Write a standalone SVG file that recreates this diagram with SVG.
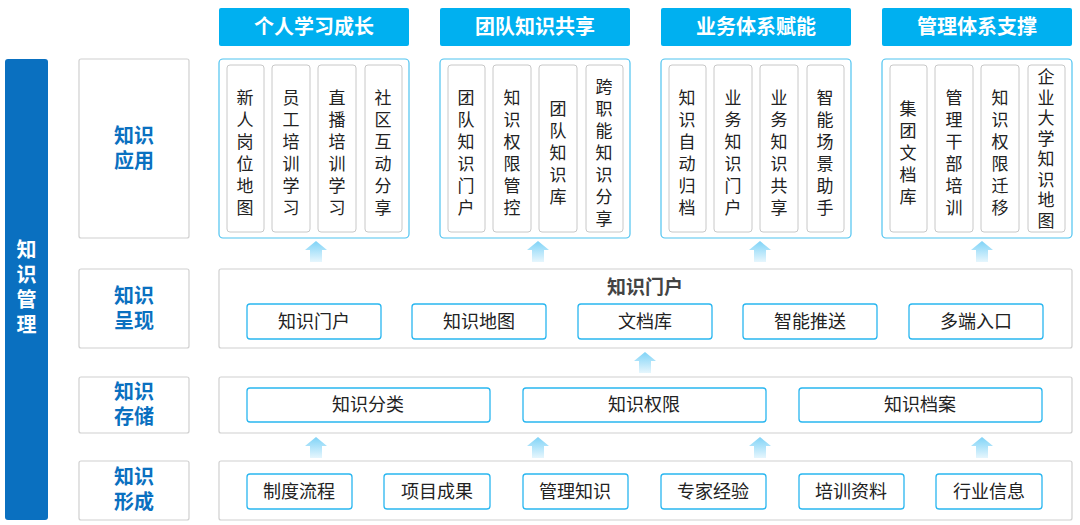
<svg xmlns="http://www.w3.org/2000/svg" width="1080" height="525" viewBox="0 0 1080 525">
<defs>
<linearGradient id="ag" x1="0" y1="0" x2="0" y2="1"><stop offset="0" stop-color="#7fd3f7"/><stop offset="1" stop-color="#e6f6fd"/></linearGradient>
<g id="arr"><path d="M-11,9 L0,0 L11,9 L6,9 L6,21 L-6,21 L-6,9 Z" fill="url(#ag)"/></g>
</defs>
<style>
text{font-family:"Noto Sans CJK SC","Noto Sans",sans-serif;}
.lab{fill:#fff;stroke:#d0d0d0;stroke-width:1.2}
.labt{fill:#0a70c0;font-size:20px;font-weight:bold;text-anchor:middle}
.tab{fill:#00b0f0}
.tabt{fill:#fff;font-size:20px;font-weight:bold;text-anchor:middle}
.grp{fill:#fff;stroke:#4fc3f0;stroke-width:1.2}
.col{fill:#fff;stroke:#c8c8c8;stroke-width:1}
.colt{fill:#222;font-size:17px;text-anchor:middle}
.row{fill:#fff;stroke:#d0d0d0;stroke-width:1.2}
.it{fill:#fff;stroke:#29b6f0;stroke-width:1.3}
.itt{fill:#222;font-size:18px;text-anchor:middle}
</style>
<rect x="0" y="0" width="1080" height="525" fill="#fff"/>
<g id="side"><rect x="5" y="59" width="43" height="461" rx="3" fill="#0a70c0"/>
<text x="26.5" y="257" fill="#fff" font-size="20" font-weight="bold" text-anchor="middle"><tspan x="26.5">知</tspan><tspan x="26.5" dy="25">识</tspan><tspan x="26.5" dy="25">管</tspan><tspan x="26.5" dy="25">理</tspan></text></g>
<g id="labels">
<rect class="lab" x="79" y="59" width="110" height="179" rx="2"/><text class="labt" x="134" y="143">知识</text><text class="labt" x="134" y="168">应用</text>
<rect class="lab" x="79" y="269" width="110" height="79" rx="2"/><text class="labt" x="134" y="303">知识</text><text class="labt" x="134" y="328">呈现</text>
<rect class="lab" x="79" y="377" width="110" height="56" rx="2"/><text class="labt" x="134" y="399">知识</text><text class="labt" x="134" y="424">存储</text>
<rect class="lab" x="79" y="461" width="110" height="59" rx="2"/><text class="labt" x="134" y="484">知识</text><text class="labt" x="134" y="509">形成</text>
</g>
<g id="tabs">
<rect class="tab" x="219" y="8" width="190" height="38" rx="2"/><text class="tabt" x="314" y="34">个人学习成长</text>
<rect class="tab" x="440" y="8" width="190" height="38" rx="2"/><text class="tabt" x="535" y="34">团队知识共享</text>
<rect class="tab" x="661" y="8" width="190" height="38" rx="2"/><text class="tabt" x="756" y="34">业务体系赋能</text>
<rect class="tab" x="882" y="8" width="190" height="38" rx="2"/><text class="tabt" x="977" y="34">管理体系支撑</text>
</g>
<g id="groups">
<rect class="grp" x="219" y="59" width="190" height="179" rx="4"/>
<rect class="grp" x="440" y="59" width="190" height="179" rx="4"/>
<rect class="grp" x="661" y="59" width="190" height="179" rx="4"/>
<rect class="grp" x="882" y="59" width="190" height="179" rx="4"/>
<rect class="col" x="227" y="65" width="37" height="167" rx="3"/><rect class="col" x="272" y="65" width="38" height="167" rx="3"/><rect class="col" x="318" y="65" width="38" height="167" rx="3"/><rect class="col" x="365" y="65" width="37" height="167" rx="3"/>
<rect class="col" x="448" y="65" width="37" height="167" rx="3"/><rect class="col" x="493" y="65" width="38" height="167" rx="3"/><rect class="col" x="539" y="65" width="38" height="167" rx="3"/><rect class="col" x="586" y="65" width="37" height="167" rx="3"/>
<rect class="col" x="669" y="65" width="37" height="167" rx="3"/><rect class="col" x="714" y="65" width="38" height="167" rx="3"/><rect class="col" x="760" y="65" width="38" height="167" rx="3"/><rect class="col" x="807" y="65" width="37" height="167" rx="3"/>
<rect class="col" x="890" y="65" width="37" height="167" rx="3"/><rect class="col" x="935" y="65" width="38" height="167" rx="3"/><rect class="col" x="981" y="65" width="38" height="167" rx="3"/><rect class="col" x="1028" y="65" width="37" height="167" rx="3"/>
<text class="colt" x="245" y="104"><tspan x="245">新</tspan><tspan x="245" dy="22">人</tspan><tspan x="245" dy="22">岗</tspan><tspan x="245" dy="22">位</tspan><tspan x="245" dy="22">地</tspan><tspan x="245" dy="22">图</tspan></text>
<text class="colt" x="291" y="104"><tspan x="291">员</tspan><tspan x="291" dy="22">工</tspan><tspan x="291" dy="22">培</tspan><tspan x="291" dy="22">训</tspan><tspan x="291" dy="22">学</tspan><tspan x="291" dy="22">习</tspan></text>
<text class="colt" x="337" y="104"><tspan x="337">直</tspan><tspan x="337" dy="22">播</tspan><tspan x="337" dy="22">培</tspan><tspan x="337" dy="22">训</tspan><tspan x="337" dy="22">学</tspan><tspan x="337" dy="22">习</tspan></text>
<text class="colt" x="383" y="104"><tspan x="383">社</tspan><tspan x="383" dy="22">区</tspan><tspan x="383" dy="22">互</tspan><tspan x="383" dy="22">动</tspan><tspan x="383" dy="22">分</tspan><tspan x="383" dy="22">享</tspan></text>
<text class="colt" x="466" y="104"><tspan x="466">团</tspan><tspan x="466" dy="22">队</tspan><tspan x="466" dy="22">知</tspan><tspan x="466" dy="22">识</tspan><tspan x="466" dy="22">门</tspan><tspan x="466" dy="22">户</tspan></text>
<text class="colt" x="512" y="104"><tspan x="512">知</tspan><tspan x="512" dy="22">识</tspan><tspan x="512" dy="22">权</tspan><tspan x="512" dy="22">限</tspan><tspan x="512" dy="22">管</tspan><tspan x="512" dy="22">控</tspan></text>
<text class="colt" x="558" y="115"><tspan x="558">团</tspan><tspan x="558" dy="22">队</tspan><tspan x="558" dy="22">知</tspan><tspan x="558" dy="22">识</tspan><tspan x="558" dy="22">库</tspan></text>
<text class="colt" x="604" y="93"><tspan x="604">跨</tspan><tspan x="604" dy="22">职</tspan><tspan x="604" dy="22">能</tspan><tspan x="604" dy="22">知</tspan><tspan x="604" dy="22">识</tspan><tspan x="604" dy="22">分</tspan><tspan x="604" dy="22">享</tspan></text>
<text class="colt" x="687" y="104"><tspan x="687">知</tspan><tspan x="687" dy="22">识</tspan><tspan x="687" dy="22">自</tspan><tspan x="687" dy="22">动</tspan><tspan x="687" dy="22">归</tspan><tspan x="687" dy="22">档</tspan></text>
<text class="colt" x="733" y="104"><tspan x="733">业</tspan><tspan x="733" dy="22">务</tspan><tspan x="733" dy="22">知</tspan><tspan x="733" dy="22">识</tspan><tspan x="733" dy="22">门</tspan><tspan x="733" dy="22">户</tspan></text>
<text class="colt" x="779" y="104"><tspan x="779">业</tspan><tspan x="779" dy="22">务</tspan><tspan x="779" dy="22">知</tspan><tspan x="779" dy="22">识</tspan><tspan x="779" dy="22">共</tspan><tspan x="779" dy="22">享</tspan></text>
<text class="colt" x="825" y="104"><tspan x="825">智</tspan><tspan x="825" dy="22">能</tspan><tspan x="825" dy="22">场</tspan><tspan x="825" dy="22">景</tspan><tspan x="825" dy="22">助</tspan><tspan x="825" dy="22">手</tspan></text>
<text class="colt" x="908" y="115"><tspan x="908">集</tspan><tspan x="908" dy="22">团</tspan><tspan x="908" dy="22">文</tspan><tspan x="908" dy="22">档</tspan><tspan x="908" dy="22">库</tspan></text>
<text class="colt" x="954" y="104"><tspan x="954">管</tspan><tspan x="954" dy="22">理</tspan><tspan x="954" dy="22">干</tspan><tspan x="954" dy="22">部</tspan><tspan x="954" dy="22">培</tspan><tspan x="954" dy="22">训</tspan></text>
<text class="colt" x="1000" y="104"><tspan x="1000">知</tspan><tspan x="1000" dy="22">识</tspan><tspan x="1000" dy="22">权</tspan><tspan x="1000" dy="22">限</tspan><tspan x="1000" dy="22">迁</tspan><tspan x="1000" dy="22">移</tspan></text>
<text class="colt" x="1046" y="83"><tspan x="1046">企</tspan><tspan x="1046" dy="20.5">业</tspan><tspan x="1046" dy="20.5">大</tspan><tspan x="1046" dy="20.5">学</tspan><tspan x="1046" dy="20.5">知</tspan><tspan x="1046" dy="20.5">识</tspan><tspan x="1046" dy="20.5">地</tspan><tspan x="1046" dy="20.5">图</tspan></text>
</g>
<g id="row-present">
<rect class="row" x="219" y="269" width="853" height="79" rx="2"/>
<text x="645" y="294" fill="#444" font-size="19" font-weight="bold" text-anchor="middle">知识门户</text>
<rect class="it" x="247" y="304" width="134" height="35" rx="3"/><text class="itt" x="314" y="328">知识门户</text>
<rect class="it" x="412" y="304" width="134" height="35" rx="3"/><text class="itt" x="479" y="328">知识地图</text>
<rect class="it" x="578" y="304" width="134" height="35" rx="3"/><text class="itt" x="645" y="328">文档库</text>
<rect class="it" x="743" y="304" width="134" height="35" rx="3"/><text class="itt" x="810" y="328">智能推送</text>
<rect class="it" x="909" y="304" width="134" height="35" rx="3"/><text class="itt" x="976" y="328">多端入口</text>
</g>
<g id="row-store">
<rect class="row" x="219" y="377" width="853" height="56" rx="2"/>
<rect class="it" x="247" y="388" width="243" height="34" rx="3"/><text class="itt" x="368" y="411">知识分类</text>
<rect class="it" x="523" y="388" width="243" height="34" rx="3"/><text class="itt" x="644" y="411">知识权限</text>
<rect class="it" x="799" y="388" width="243" height="34" rx="3"/><text class="itt" x="920" y="411">知识档案</text>
</g>
<g id="row-form">
<rect class="row" x="219" y="461" width="853" height="59" rx="2"/>
<rect class="it" x="247" y="474" width="105" height="35" rx="3"/><text class="itt" x="299" y="498">制度流程</text>
<rect class="it" x="384" y="474" width="106" height="35" rx="3"/><text class="itt" x="437" y="498">项目成果</text>
<rect class="it" x="523" y="474" width="105" height="35" rx="3"/><text class="itt" x="575" y="498">管理知识</text>
<rect class="it" x="661" y="474" width="105" height="35" rx="3"/><text class="itt" x="713" y="498">专家经验</text>
<rect class="it" x="799" y="474" width="105" height="35" rx="3"/><text class="itt" x="851" y="498">培训资料</text>
<rect class="it" x="936" y="474" width="106" height="35" rx="3"/><text class="itt" x="989" y="498">行业信息</text>
</g>
<g id="connectors">
<use href="#arr" x="316" y="241"/><use href="#arr" x="538" y="241"/><use href="#arr" x="760" y="241"/><use href="#arr" x="982" y="241"/>
<use href="#arr" x="645" y="352"/>
<use href="#arr" x="316" y="437"/><use href="#arr" x="538" y="437"/><use href="#arr" x="760" y="437"/><use href="#arr" x="982" y="437"/>
</g>
</svg>
